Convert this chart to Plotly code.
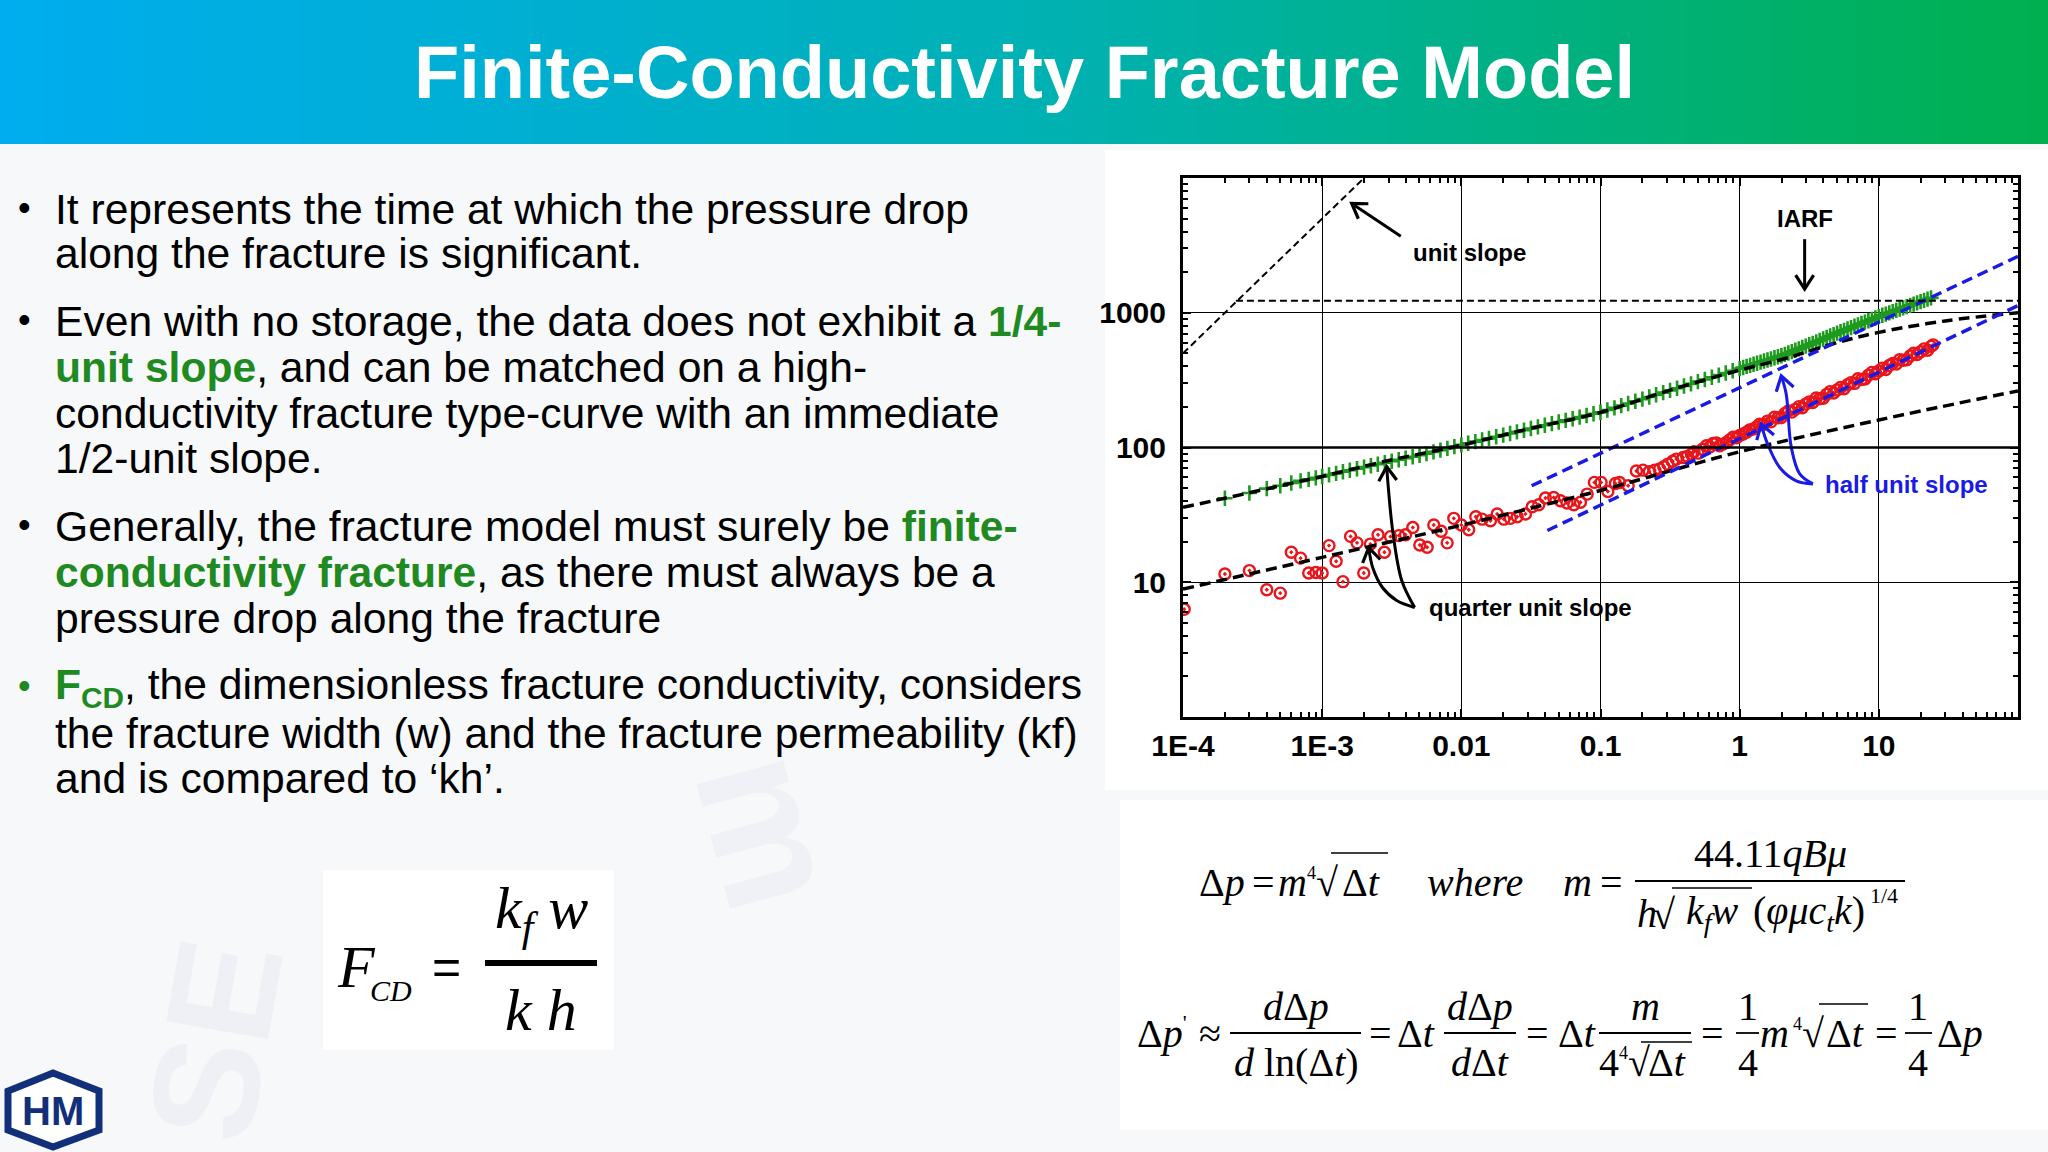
import numpy as np
import plotly.graph_objects as go

# ---- data ----
# pressure (green +)
green_t = [2e-4, 3e-4, 4e-4, 5e-4, 6e-4, 7e-4, 8e-4, 9e-4, 1e-3,
           1.12e-3, 1.26e-3, 1.41e-3, 1.58e-3, 1.78e-3, 2.0e-3, 2.24e-3, 2.51e-3, 2.82e-3, 3.16e-3,
           3.55e-3, 3.98e-3, 4.47e-3, 5.01e-3, 5.62e-3, 6.31e-3, 7.08e-3, 7.94e-3, 8.91e-3, 0.01,
           0.0112, 0.0126, 0.0141, 0.0158, 0.0178, 0.02, 0.0224, 0.0251, 0.0282, 0.0316,
           0.0355, 0.0398, 0.0447, 0.0501, 0.0562, 0.0631, 0.0708, 0.0794, 0.0891, 0.1,
           0.112, 0.126, 0.141, 0.158, 0.178, 0.2, 0.224, 0.251, 0.282, 0.316,
           0.355, 0.398, 0.447, 0.501, 0.562, 0.631, 0.708, 0.794, 0.891,
           1.0, 1.059, 1.122, 1.189, 1.259, 1.334, 1.413, 1.496, 1.585, 1.679,
           1.778, 1.884, 1.995, 2.113, 2.239, 2.371, 2.512, 2.661, 2.818, 2.985,
           3.162, 3.350, 3.548, 3.758, 3.981, 4.217, 4.467, 4.732, 5.012, 5.309,
           5.623, 5.957, 6.310, 6.683, 7.079, 7.499, 7.943, 8.414, 8.913, 9.441,
           10.0, 10.59, 11.22, 11.89, 12.59, 13.34, 14.13, 14.96, 15.85, 16.79,
           17.78, 18.84, 19.95, 21.13, 22.39, 23.71]
green_dp = [42, 46, 49.5, 52, 54.5, 56.5, 58, 59.5, 61,
            62.6, 64.3, 66.0, 67.8, 69.6, 71.5, 73.3, 75.2, 77.1, 79.1,
            81.1, 83.2, 85.3, 87.5, 90.1, 92.8, 95.6, 98.5, 101.5, 104.5,
            107.5, 110.5, 113.7, 116.9, 120.2, 123.6, 127.1, 130.7, 134.4, 138.2,
            142.2, 146.2, 150.3, 154.6, 159.0, 163.5, 168.1, 172.9, 177.8, 182.8,
            189.7, 196.9, 204.4, 212.2, 220.2, 228.6, 237.3, 246.3, 255.6, 265.3,
            275.4, 285.9, 296.7, 308.0, 319.7, 331.8, 344.4, 357.5, 371.1,
            385, 392, 400, 407, 415, 422, 430, 438, 446, 454,
            463, 471, 480, 491, 503, 515, 527, 539, 552, 565,
            579, 593, 608, 623, 639, 655, 672, 688, 706, 722,
            740, 757, 775, 794, 813, 832, 852, 872, 893, 915,
            936, 957, 977, 998, 1020, 1042, 1064, 1087, 1110, 1134,
            1159, 1184, 1209, 1235, 1262, 1289]

# derivative (red circles)
red_t = [1.02e-4, 2e-4, 3e-4, 4e-4, 5e-4, 6e-4, 7e-4, 8e-4, 9e-4, 1.0e-3,
         1.12e-3, 1.26e-3, 1.41e-3, 1.6e-3, 1.78e-3, 1.99e-3, 2.22e-3, 2.52e-3, 2.8e-3, 3.1e-3,
         3.56e-3, 3.97e-3, 4.48e-3, 5.03e-3, 5.68e-3, 6.34e-3, 7.16e-3, 7.91e-3, 8.83e-3, 0.0100,
         0.0113, 0.0127, 0.0141, 0.0162, 0.0181, 0.0202, 0.0225, 0.0252, 0.0289, 0.0323,
         0.0360, 0.0402, 0.0461, 0.0515, 0.0575, 0.0643, 0.0718, 0.0802, 0.0904, 0.101,
         0.113, 0.128, 0.137, 0.158, 0.181, 0.202, 0.224, 0.245, 0.266, 0.285,
         0.305, 0.330, 0.351, 0.392, 0.420, 0.450, 0.470, 0.502, 0.540, 0.577,
         0.610, 0.643, 0.680, 0.718, 0.760, 0.802, 0.850, 0.896, 0.950, 1.00,
         1.06, 1.12, 1.18, 1.25, 1.32, 1.39, 1.47,
         1.585, 1.679, 1.778, 1.884, 1.995, 2.113, 2.239, 2.371, 2.512, 2.661,
         2.818, 2.985, 3.162, 3.350, 3.548, 3.758, 3.981, 4.217, 4.467, 4.732,
         5.012, 5.309, 5.623, 5.957, 6.310, 6.683, 7.079, 7.499, 7.943, 8.414,
         8.913, 9.441, 10.0, 10.59, 11.22, 11.89, 12.59, 13.34, 14.13, 14.96,
         15.85, 16.79, 17.78, 18.84, 19.95, 21.13, 22.39, 23.71, 24.55]
red_dp = [6.3, 11.5, 12.2, 8.8, 8.3, 16.7, 15.1, 11.7, 11.8, 11.7,
          18.7, 14.3, 10.1, 21.9, 19.6, 11.7, 19.2, 22.5, 16.7, 21.8,
          22.2, 22.5, 25.5, 18.9, 18.2, 26.6, 23.9, 19.6, 29.8, 26.6,
          24.5, 30.6, 29.4, 28.6, 32.1, 29.4, 29.8, 30.6, 32.1, 36.3,
          37.6, 42.2, 42.6, 40.3, 38.7, 37.6, 39.2, 45.1, 55.1, 55.1,
          47.2, 54.1, 55, 52, 67, 67.9, 66, 67.9, 69.2, 72,
          75.3, 79, 82, 84.4, 86, 89.3, 93, 90.8, 97, 103,
          101, 107, 108, 103, 106, 109, 114, 119, 118, 123,
          126, 130, 135, 137, 142, 149, 148,
          157, 155, 168, 166, 167, 179, 187, 183, 192, 201,
          197, 210, 218, 216, 233, 230, 232, 248, 260, 254,
          267, 279, 273, 292, 303, 299, 324, 320, 322, 344,
          361, 353, 370, 388, 379, 406, 421, 416, 449, 444,
          447, 478, 501, 490, 514, 539, 527, 563, 578]

# type-curve match (black dashed)
model_t = [1e-4, 2e-4, 5e-4, 1e-3, 3e-3, 0.01, 0.03, 0.1, 0.3, 1, 2, 3, 5, 10, 30, 100]
model_dp = [36, 42, 52, 61, 80, 104, 137, 182, 262, 375, 450, 510, 600, 715, 870, 1000]
model_der_t = [1e-4, 1e-3, 0.01, 0.1, 1, 10, 100]
model_der = [8.9, 15.3, 26.5, 48, 93, 160, 263]

# straight-line guides
half_hi_t = [0.032, 100]
half_hi = [52, 2620]
half_lo_t = [0.0415, 100]
half_lo = [24.2, 1130]
unit_t = [1e-4, 2e-3]
unit_dp = [500, 10000]
iarf_t = [2.4e-4, 100]
iarf_dp = [1230, 1230]

x_ticks = [1e-4, 1e-3, 0.01, 0.1, 1, 10]
x_labels = ["1E-4", "1E-3", "0.01", "0.1", "1", "10"]
y_ticks = [10, 100, 1000]
y_labels = ["10", "100", "1000"]

W, H = 2048, 1152
# plot frame in page pixels
FX0, FX1, FY0, FY1 = 1183, 2018, 178, 717
AX = (FX1 - FX0) / 6.0
AY = (FY1 - FY0) / 4.0


def P(x):
    return x / W


def Q(y):
    return 1 - y / H


lg = np.log10


def to_px(t, p):
    return FX0 + (lg(t) + 4) * AX, FY1 - lg(p) * AY


def from_px(x, y):
    return 10 ** ((x - FX0) / AX - 4), 10 ** ((FY1 - y) / AY)


GREEN_TXT = "#1f8a1f"
BLUE = "#1a1ae6"
SANS = "Liberation Sans, Arial, sans-serif"
SERIF = "Liberation Serif, Times New Roman, serif"

fig = go.Figure()

# data
fig.add_trace(go.Scatter(x=red_t, y=red_dp, mode="markers",
                         marker=dict(symbol="circle-open-dot", size=11, color="#e8161b",
                                     line=dict(width=2.4, color="#e8161b"))))
fig.add_trace(go.Scatter(x=green_t, y=green_dp, mode="markers",
                         marker=dict(symbol="cross-thin", size=11,
                                     line=dict(width=2.6, color="#1e9a1e"))))
# model curves
fig.add_trace(go.Scatter(x=model_t, y=model_dp, mode="lines", line_shape="spline",
                         line=dict(color="black", width=3.5, dash="11px,6px")))
fig.add_trace(go.Scatter(x=model_der_t, y=model_der, mode="lines", line_shape="spline",
                         line=dict(color="black", width=3.5, dash="11px,6px")))
for xs, ys in [(half_hi_t, half_hi), (half_lo_t, half_lo)]:
    fig.add_trace(go.Scatter(x=xs, y=ys, mode="lines",
                             line=dict(color=BLUE, width=3.5, dash="11px,6px")))
for xs, ys in [(unit_t, unit_dp), (iarf_t, iarf_dp)]:
    fig.add_trace(go.Scatter(x=xs, y=ys, mode="lines",
                             line=dict(color="black", width=2, dash="7px,4px")))

# pointer arrows (bodies)
black_arrows = [
    ([4.62e-3, 3.73e-3, 3.21e-3, 2.96e-3, 2.91e-3], [6.5, 10.3, 24.2, 56.6, 72]),
    ([4.62e-3, 3.43e-3, 2.72e-3, 2.31e-3, 2.16e-3], [6.5, 7.33, 9.1, 12.8, 18.1]),
    ([3.67e-3, 1.63e-3], [3700, 6470]),
    ([2.93, 2.93], [3515, 1500]),
]
blue_arrows = [
    ([3.36, 2.70, 2.35, 2.16, 1.99], [53.7, 63.7, 100, 249, 340]),
    ([3.36, 2.55, 1.94, 1.556, 1.43], [53.7, 56.6, 71, 112, 149]),
]
for arrows, col in [(black_arrows, "black"), (blue_arrows, BLUE)]:
    for xs, ys in arrows:
        fig.add_trace(go.Scatter(x=xs, y=ys, mode="lines", line_shape="spline",
                                 line=dict(color=col, width=3)))

shapes = []


def head(tip, back, color, L=14, Wd=9):
    tx, ty = to_px(*tip)
    bx, by = to_px(*back)
    dx, dy = tx - bx, ty - by
    n = np.hypot(dx, dy)
    dx, dy = dx / n, dy / n
    w1 = from_px(tx - L * dx - Wd * dy, ty - L * dy + Wd * dx)
    w2 = from_px(tx - L * dx + Wd * dy, ty - L * dy - Wd * dx)
    path = "M %.8f,%.8f L %.8f,%.8f L %.8f,%.8f" % (w1[0], w1[1], tip[0], tip[1], w2[0], w2[1])
    shapes.append(dict(type="path", xref="x", yref="y", path=path,
                       line=dict(color=color, width=3.2), layer="above"))


head((2.91e-3, 72), (2.96e-3, 56.6), "black")
head((2.16e-3, 18.1), (2.31e-3, 12.8), "black")
head((1.63e-3, 6470), (3.67e-3, 3700), "black")
head((2.93, 1500), (2.93, 3515), "black")
head((1.99, 340), (2.16, 249), BLUE)
head((1.43, 149), (1.556, 112), BLUE)

ann = []


def chart_text(t, p, text, color="black", anchor="center"):
    ann.append(dict(x=lg(t), y=lg(p), xref="x", yref="y", text=text, showarrow=False,
                    xanchor=anchor, yanchor="middle",
                    font=dict(family=SANS, size=24, color=color, weight="bold")))


chart_text(0.0115, 2820, "unit slope")
chart_text(2.93, 5020, "IARF")
chart_text(5.64e-3, 6.5, "quarter unit slope", anchor="left")
chart_text(3.95, 53, "half unit slope", color=BLUE, anchor="left")

# ---- slide furniture (paper coordinates from page pixels) ----
# header gradient
stops = [(0.0, (0, 173, 239)), (0.5, (0, 177, 181)), (1.0, (0, 176, 79))]
n = 96
for i in range(n):
    f = (i + 0.5) / n
    for (a, ca), (b, cb) in zip(stops[:-1], stops[1:]):
        if a <= f <= b:
            u = (f - a) / (b - a)
            c = tuple(int(round(ca[k] + (cb[k] - ca[k]) * u)) for k in range(3))
    shapes.append(dict(type="rect", xref="paper", yref="paper", x0=i / n, x1=(i + 1) / n + 0.001,
                       y0=Q(144), y1=1, fillcolor="rgb(%d,%d,%d)" % c, line_width=0, layer="below"))
# white panels behind chart and equations
for x0, x1, y0, y1 in [(1105, W, 150, 790), (1120, W, 800, 1130), (323, 614, 870, 1050)]:
    shapes.append(dict(type="rect", xref="paper", yref="paper", x0=P(x0), x1=P(x1), y0=Q(y1), y1=Q(y0),
                       fillcolor="white", line_width=0, layer="below"))
# thicker 100 grid line
shapes.append(dict(type="line", xref="x domain", yref="y", x0=0, x1=1, y0=100, y1=100,
                   line=dict(color="black", width=2.5)))


def hline(x0, x1, y, w=1.8):
    shapes.append(dict(type="line", xref="paper", yref="paper", x0=P(x0), x1=P(x1), y0=Q(y), y1=Q(y),
                       line=dict(color="black", width=w)))


# fraction bars and radical overbars
hline(1635, 1905, 881)
hline(1331, 1388, 853, 1.5)
hline(1672, 1752, 888, 1.5)
hline(1230, 1361, 1033)
hline(1444, 1516, 1033)
hline(1599, 1691, 1033)
hline(1641, 1692, 1042, 1.5)
hline(1736, 1759, 1033)
hline(1819, 1868, 1004, 1.5)
hline(1905, 1932, 1033)
hline(485, 597, 963, 6)

# logo hexagon
shapes.append(dict(type="path", xref="paper", yref="paper",
                   path="M %f,%f L %f,%f L %f,%f L %f,%f L %f,%f L %f,%f Z" % (
                       P(53), Q(1073), P(99), Q(1091), P(99), Q(1130), P(53), Q(1147), P(8), Q(1130), P(8), Q(1091)),
                   line=dict(color="#12307a", width=7), fillcolor="white"))


def txt(x, y, text, size=42.6, color="black", anchor="center", family=SANS, weight="normal", angle=0):
    ann.append(dict(x=P(x), y=Q(y), xref="paper", yref="paper", text=text, showarrow=False,
                    xanchor=anchor, yanchor="middle", align="left", textangle=angle,
                    font=dict(family=family, size=size, color=color, weight=weight)))


def g(s):
    return "<b><span style='color:%s'>%s</span></b>" % (GREEN_TXT, s)


# faint watermark
txt(215, 1040, "SE", size=150, color="rgba(130,140,180,0.07)", angle=-80, weight="bold")
txt(770, 830, "m", size=170, color="rgba(130,140,180,0.06)", angle=75, weight="bold")

# title
txt(1024, 72, "Finite-Conductivity Fracture Model", size=74, color="white", weight="bold")

# bullets
lines = [
    (209, "It represents the time at which the pressure drop"),
    (253, "along the fracture is significant."),
    (321, "Even with no storage, the data does not exhibit a " + g("1/4-")),
    (367, g("unit slope") + ", and can be matched on a high-"),
    (413, "conductivity fracture type-curve with an immediate"),
    (458, "1/2-unit slope."),
    (526, "Generally, the fracture model must surely be " + g("finite-")),
    (572, g("conductivity fracture") + ", as there must always be a"),
    (618, "pressure drop along the fracture"),
    (687, g("F<sub>CD</sub>") + ", the dimensionless fracture conductivity, considers"),
    (733, "the fracture width (w) and the fracture permeability (kf)"),
    (778, "and is compared to \u2018kh\u2019."),
]
for y, s in lines:
    txt(53, y, s, anchor="left")
for y, c in [(209, "black"), (321, "black"), (526, "black"), (687, GREEN_TXT)]:
    txt(24, y - 2, "\u2022", size=36, color=c)

# equations
E = 40
ROOT4 = "<sup><span style='font-size:18px'>4</span></sup>\u221a"


def m(x, y, s, size=E):
    txt(x, y, s, size=size, family=SERIF)


# dp = m (dt)^1/4   where   m = 44.11 qB mu / ...
m(1222, 882, "\u0394<i>p</i>")
m(1263, 882, "=")
m(1292, 882, "<i>m</i>")
m(1322, 882, ROOT4)
m(1361, 882, "\u0394<i>t</i>")
m(1475, 882, "<i>where</i>")
m(1577, 882, "<i>m</i>")
m(1611, 882, "=")
m(1770, 853, "44.11<i>qB\u03bc</i>")
m(1647, 913, "<i>h</i>")
m(1664, 915, "\u221a", size=42)
m(1712, 913, "<i>k<sub>f</sub>w</i>")
m(1809, 913, "(<i>\u03c6\u03bcc<sub>t</sub>k</i>)")
m(1884, 895, "1/4", size=22)

# dp' = ... = 1/4 dp
m(1162, 1033, "\u0394<i>p</i><sup><span style='font-size:22px'>'</span></sup>")
m(1210, 1033, "\u2248")
m(1296, 1006, "<i>d</i>\u0394<i>p</i>")
m(1296, 1062, "<i>d</i> ln(\u0394<i>t</i>)")
m(1380, 1033, "=")
m(1416, 1033, "\u0394<i>t</i>")
m(1480, 1006, "<i>d</i>\u0394<i>p</i>")
m(1480, 1062, "<i>d</i>\u0394<i>t</i>")
m(1537, 1033, "=")
m(1577, 1033, "\u0394<i>t</i>")
m(1645, 1006, "<i>m</i>")
m(1624, 1062, "4" + ROOT4)
m(1667, 1062, "\u0394<i>t</i>")
m(1712, 1033, "=")
m(1748, 1006, "1")
m(1748, 1062, "4")
m(1774, 1033, "<i>m</i>")
m(1808, 1033, ROOT4)
m(1845, 1033, "\u0394<i>t</i>")
m(1886, 1033, "=")
m(1918, 1006, "1")
m(1918, 1062, "4")
m(1960, 1033, "\u0394<i>p</i>")

# F_CD = kf w / k h
m(356, 967, "<i>F</i>", size=60)
m(391, 990, "<i>CD</i>", size=30)
txt(446, 967, "=", size=50, family=SANS)
m(541, 912, "<i>k<sub>f</sub> w</i>", size=60)
m(541, 1010, "<i>k h</i>", size=60)

# logo letters
txt(53, 1111, "HM", size=40, color="#12307a", weight="bold")

minor_x = [k * 10.0 ** e for e in range(-4, 2) for k in range(2, 10)]
minor_y = [k * 10.0 ** e for e in range(0, 4) for k in range(2, 10)]

axis_common = dict(type="log", showline=True, linecolor="black", linewidth=3, mirror="allticks",
                   ticks="inside", ticklen=8, tickwidth=1.5, tickcolor="black", automargin=False,
                   showgrid=True, gridcolor="black", gridwidth=1.3, zeroline=False,
                   tickfont=dict(family=SANS, size=30, color="black", weight="bold"))

fig.update_layout(
    width=W, height=H, margin=dict(l=0, r=0, t=0, b=0, autoexpand=False),
    paper_bgcolor="#f7f8fa", plot_bgcolor="white", showlegend=False,
    xaxis=dict(axis_common, range=[-4, 2], domain=[P(FX0), P(FX1)],
               tickvals=x_ticks, ticktext=x_labels, ticklabelstandoff=0,
               minor=dict(tickvals=minor_x, ticks="inside", ticklen=5, tickwidth=1.5,
                          tickcolor="black", showgrid=False)),
    yaxis=dict(axis_common, range=[0, 4], domain=[Q(FY1), Q(FY0)],
               tickvals=y_ticks, ticktext=y_labels, ticklabelstandoff=8,
               minor=dict(tickvals=minor_y, ticks="inside", ticklen=5, tickwidth=1.5,
                          tickcolor="black", showgrid=False)),
    shapes=shapes, annotations=ann,
)

fig.write_html("out.html", config={"displayModeBar": False},
               post_script="document.body.style.margin='0';document.body.style.overflow='hidden';")
